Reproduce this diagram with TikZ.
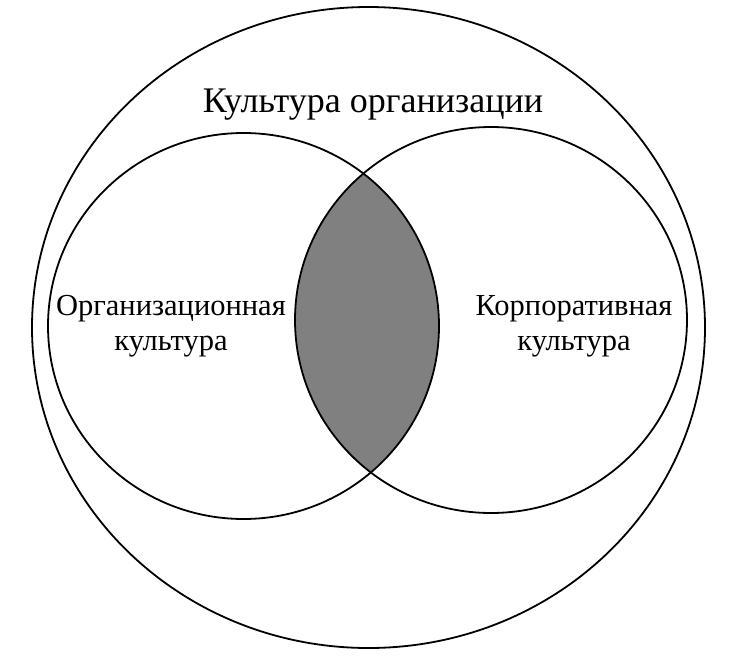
\documentclass[tikz,border=0pt]{standalone}
\usepackage{fontspec}
\setmainfont{Liberation Serif}
\usetikzlibrary{positioning}

\tikzset{
    ring/.style={line width=1.8pt},
    lens/.style={fill=black!50},
    cultname/.style={align=center,font=\fontsize{30.5}{35}\selectfont},
}

\begin{document}
\begin{tikzpicture}[x=1pt,y=-1pt]
            \useasboundingbox (0,0) rectangle (731,659);
            \begin{scope}
                \clip (243.5,326) ellipse [x radius=195.5pt, y radius=193pt];
                \fill[lens] (491,320) ellipse [x radius=196pt, y radius=193pt];
            \end{scope}
            \draw[ring] (368.5,327.5) ellipse [x radius=336.5pt, y radius=320.5pt];
            \draw[ring] (243.5,326) ellipse [x radius=195.5pt, y radius=193pt];
            \draw[ring] (491,320) ellipse [x radius=196pt, y radius=193pt];
            \node (title) at (373,112) [anchor=base,font=\fontsize{36}{40}\selectfont] {Культура организации};
            \node (orgcult) at (171,326) [cultname] {Организационная\\культура};
            \node (corpcult) at (574,326) [cultname] {Корпоративная\\культура};
        \end{tikzpicture}
\end{document}
